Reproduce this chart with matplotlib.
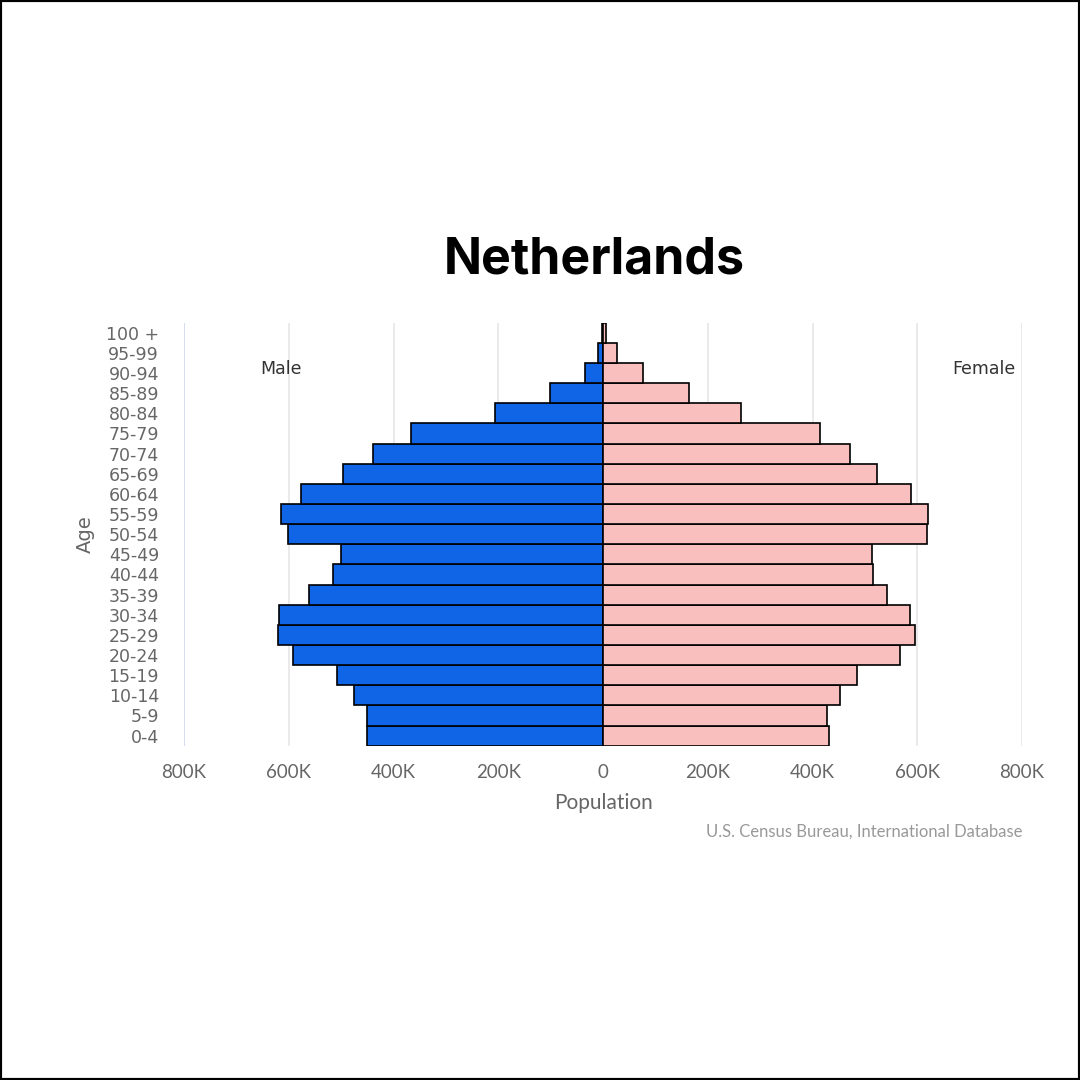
import matplotlib.pyplot as plt
from matplotlib.patches import Rectangle
from matplotlib.ticker import FuncFormatter

# population by age group (thousands)
age_groups = ["0-4", "5-9", "10-14", "15-19", "20-24", "25-29", "30-34",
              "35-39", "40-44", "45-49", "50-54", "55-59", "60-64", "65-69",
              "70-74", "75-79", "80-84", "85-89", "90-94", "95-99", "100 +"]
male = [450, 450, 475, 507, 592, 621, 618, 561, 516, 500, 602, 615, 577,
        497, 440, 367, 206, 101, 35, 9.5, 1.5]
female = [431, 428, 453, 485, 567, 596, 586, 542, 516, 513, 618, 621, 589,
          523, 472, 415, 263, 165, 76, 26, 6.5]
x_ticks = [-800, -600, -400, -200, 0, 200, 400, 600, 800]

narrow = "Lato"
gray = "#666666"

fig = plt.figure(figsize=(10.8, 10.8), dpi=100)
fig.patches.append(Rectangle((0, 0), 1, 1, transform=fig.transFigure,
                             fill=False, edgecolor="black", linewidth=3))

ax = fig.add_axes([184 / 1080, 1 - 745.7 / 1080, 838 / 1080, 423 / 1080])

y = range(len(age_groups))
ax.barh(y, [-m for m in male], height=1.0, color="#1064e6",
        edgecolor="black", linewidth=1.2, zorder=3)
ax.barh(y, female, height=1.0, color="#f9bfbf",
        edgecolor="black", linewidth=1.2, zorder=3)

ax.set_xlim(-800, 800)
ax.set_ylim(-0.5, len(age_groups) - 0.5)

for s in ax.spines.values():
    s.set_visible(False)

for t in x_ticks:
    c = "#ccd6eb" if t == -800 else "#e6e6e6"
    ax.axvline(t, color=c, linewidth=1.2, zorder=1)

ax.set_xticks(x_ticks)
ax.xaxis.set_major_formatter(FuncFormatter(
    lambda v, p: "0" if v == 0 else f"{abs(int(v))}K"))
ax.tick_params(axis="x", length=0, pad=13, labelsize=13.5, labelcolor=gray)
for lab in ax.get_xticklabels():
    lab.set_family(narrow)

ax.set_yticks(list(y))
ax.set_yticklabels(age_groups)
ax.tick_params(axis="y", length=0, pad=18, labelsize=12.5, labelcolor=gray)
for lab in ax.get_yticklabels():
    lab.set_family("DejaVu Sans")

ax.set_xlabel("Population", fontsize=15, color=gray, family=narrow, labelpad=9)
ax.set_ylabel("Age", fontsize=14, color=gray, labelpad=8)

fig.text(281 / 1080, 1 - 369 / 1080, "Male", ha="center", va="center",
         fontsize=12.5, color="#333333")
fig.text(984 / 1080, 1 - 369 / 1080, "Female", ha="center", va="center",
         fontsize=12.5, color="#333333")

fig.text(594 / 1080, 1 - 260 / 1080, "Netherlands", ha="center", va="center",
         fontsize=36, fontweight="bold", family="Inter", color="black")

fig.text(1023 / 1080, 1 - 832 / 1080, "U.S. Census Bureau, International Database",
         ha="right", va="center", fontsize=12, color="#999999", family=narrow)

fig.savefig("out.png", dpi=100)
